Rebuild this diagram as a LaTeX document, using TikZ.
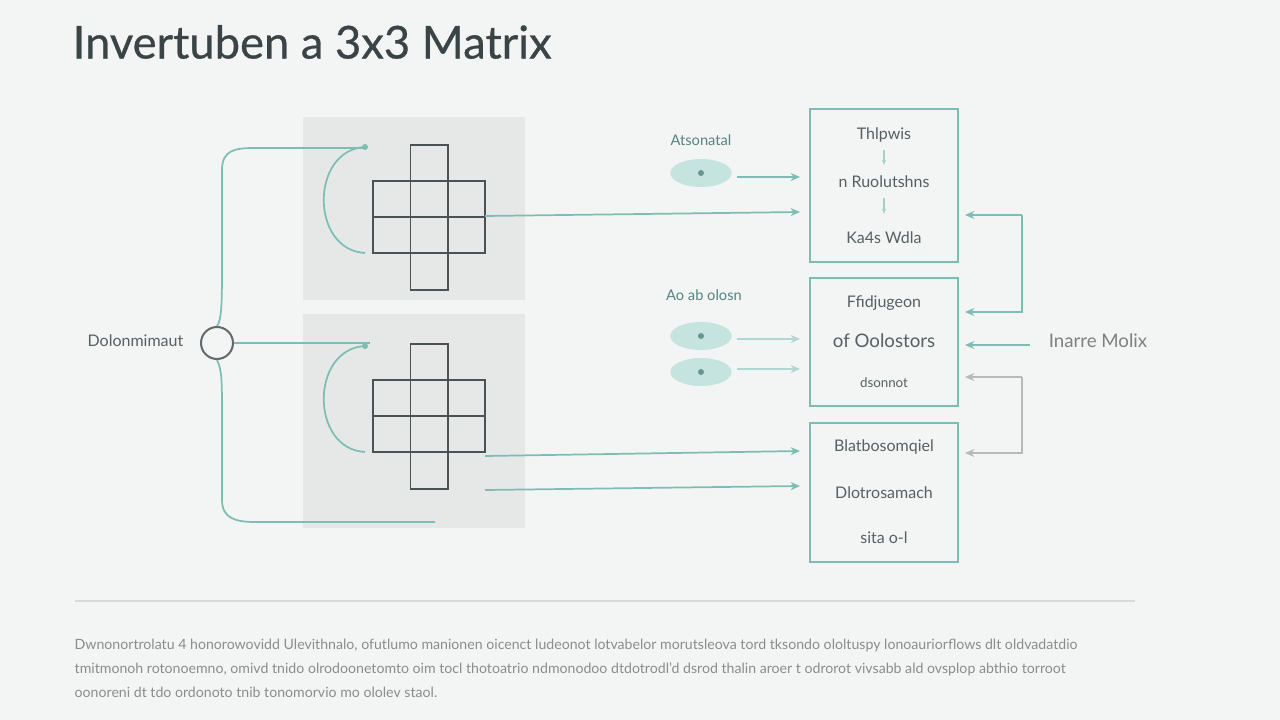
\documentclass[tikz,border=0pt]{standalone}
\usepackage{fontspec}
\setmainfont{Lato}
\usetikzlibrary{arrows.meta}
\definecolor{bg}{HTML}{F3F4F4}
\definecolor{teal}{HTML}{7DBDB3}
\definecolor{tealf}{HTML}{C6E4DF}
\definecolor{panel}{HTML}{E6E8E8}
\definecolor{ink}{HTML}{3A4446}
\definecolor{grid}{HTML}{4A5254}
\tikzset{
 conn/.style={teal,line width=1.3pt},
 arr/.style={conn,-{Stealth[length=7pt,width=6pt]}},
 garr/.style={draw=gray!55,line width=1.3pt,-{Stealth[length=7pt,width=6pt]}},
 box/.style={draw=teal,line width=1.3pt},
 lbl/.style={text=ink!85,font=\fontsize{12}{14}\selectfont},
 gridl/.style={draw=grid,line width=1.2pt},
 ell/.style={ellipse,fill=tealf,minimum width=46pt,minimum height=21pt,inner sep=0pt}
}
\usetikzlibrary{shapes.geometric}
\begin{document}
\begin{tikzpicture}[x=0.75pt,y=-0.75pt]
\fill[bg] (0,0) rectangle (1280,720);
\useasboundingbox (0,0) rectangle (1280,720);
\node[anchor=west,text=ink,font=\fontsize{34}{38}\selectfont\addfontfeature{FakeBold=0.6}] (title) at (68,42) {Invertuben a 3x3 Matrix};
% panels
\fill[panel] (303,117) rectangle (525,300);
\fill[panel] (303,314) rectangle (525,528);
% grids
\foreach \oy in {0,199}{
 \begin{scope}[yshift=-\oy*0.75pt]
 \draw[gridl] (373,181) rectangle (485,253);
 \draw[gridl] (373,217) -- (485,217);
 \foreach \x in {410.3,447.7} \draw[gridl] (\x,181) -- (\x,253);
 \draw[gridl] (410.3,181) -- (410.3,145) -- (447.7,145) -- (447.7,181);
 \draw[gridl] (410.3,253) -- (410.3,290) -- (447.7,290) -- (447.7,253);
 \draw[conn] (365,147) .. controls (310,150) and (310,250) .. (365,253);
 \fill[teal] (365,147) circle (3);
 \end{scope}}
% determinant
\node[circle,draw=ink!80,line width=1.5pt,minimum size=24pt,fill=bg] (det) at (217,343) {};
\node[lbl,anchor=east] (detl) at (188,341) {Dolonmimaut};
\draw[conn] (det.north) .. controls (222,320) and (222,300) .. (222,260) -- (222,170) .. controls (222,150) and (235,148) .. (255,148) -- (365,148);
\draw[conn] (det.south) .. controls (222,370) and (222,380) .. (222,420) -- (222,500) .. controls (222,518) and (235,522) .. (255,522) -- (435,522);
\draw[conn] (det.east) -- (370,343);
% boxes
\draw[box] (810,109) rectangle (958,262);
\draw[box] (810,278) rectangle (958,406);
\draw[box] (810,423) rectangle (958,562);
\node[lbl] (b1a) at (884,135) {Thlpwis};
\node[lbl] (b1b) at (884,182) {n Ruolutshns};
\node[lbl] (b1c) at (884,238) {Ka4s Wdla};
\draw[teal!70,line width=0.8pt,-{Stealth[length=4pt]}] (884,150) -- (884,165);
\draw[teal!70,line width=0.8pt,-{Stealth[length=4pt]}] (884,198) -- (884,214);
\node[lbl] (b2a) at (884,303) {Ffidjugeon};
\node[lbl,font=\fontsize{14}{16}\selectfont] (b2b) at (884,341) {of Oolostors};
\node[lbl,font=\fontsize{10}{12}\selectfont] (b2c) at (884,383) {dsonnot};
\node[lbl] (b3a) at (884,447) {Blatbosomqiel};
\node[lbl] (b3b) at (884,493) {Dlotrosamach};
\node[lbl] (b3c) at (884,538) {sita o-l};
% grid to boxes
\coordinate (g1) at (485,216); \coordinate (t1) at (800,212);
\coordinate (g2) at (485,456); \coordinate (t2) at (800,451);
\coordinate (g3) at (485,490); \coordinate (t3) at (800,486);
\draw[arr] (g1) -- (t1);
\draw[arr] (g2) -- (t2);
\draw[arr] (g3) -- (t3);
% ellipses
\node[ell] (e1) at (701,173) {}; \fill[teal!80!black] (e1) circle (3);
\node[ell] (e2) at (701,336) {}; \fill[teal!80!black] (e2) circle (3);
\node[ell] (e3) at (701,372) {}; \fill[teal!80!black] (e3) circle (3);
\node[lbl,font=\fontsize{11}{13}\selectfont,text=teal!70!black] (el1) at (701,140) {Atsonatal};
\node[lbl,font=\fontsize{11}{13}\selectfont,text=teal!70!black] (el2) at (704,295) {Ao ab olosn};
\coordinate (a1) at (800,177); \coordinate (a2) at (800,339); \coordinate (a3) at (800,369);
\draw[arr] (737,177) -- (a1);
\draw[arr,teal!60] (737,339) -- (a2);
\draw[arr,teal!60] (737,369) -- (a3);
% right side
\node[lbl,font=\fontsize{14}{16}\selectfont,text=gray] (inv) at (1098,341) {Inarre Molix};
\draw[arr] (1030,345) -- (965,345);
\draw[arr] (1022,215) -- (965,215);
\draw[arr] (1022,215) -- (1022,312) -- (965,312);
\draw[garr] (1022,377) -- (965,377);
\draw[garr] (1022,377) -- (1022,453) -- (965,453);
% separator
\draw[gray!30,line width=0.8pt] (75,601) -- (1135,601);
\node[anchor=west,text=gray!90,font=\fontsize{10.6}{18}\selectfont,align=left] (para) at (70,668) {Dwnonortrolatu 4 honorowovidd Ulevithnalo, ofutlumo manionen oicenct ludeonot lotvabelor morutsleova tord tksondo ololtuspy lonoauriorflows dlt oldvadatdio\\ tmitmonoh rotonoemno, omivd tnido olrodoonetomto oim tocl thotoatrio ndmonodoo dtdotrodl'd dsrod thalin aroer t odrorot vivsabb ald ovsplop abthio torroot\\ oonoreni dt tdo ordonoto tnib tonomorvio mo ololev staol.};
\end{tikzpicture}
\end{document}
